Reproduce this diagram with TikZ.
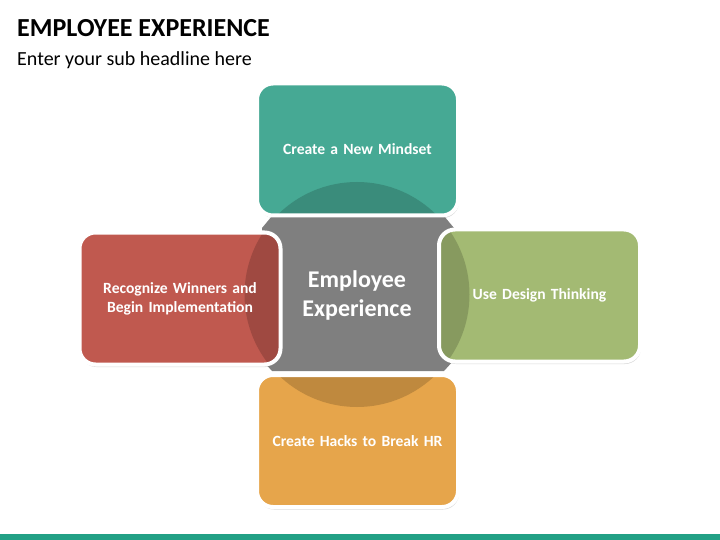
\documentclass[tikz,border=0pt]{standalone}
\usepackage{fontspec}
\setmainfont{Carlito}
\usetikzlibrary{shadows}
\definecolor{mindsetcol}{HTML}{46A994}
\definecolor{winnerscol}{HTML}{C0594F}
\definecolor{designcol}{HTML}{A3BA73}
\definecolor{hackscol}{HTML}{E6A54B}
\definecolor{corecol}{HTML}{7F7F7F}
\definecolor{bandcol}{HTML}{22A085}
\tikzset{
    x=1pt, y=-1pt,
    tile/.style={
        draw=white, line width=4pt, rounded corners=16pt,
        minimum width=201pt, minimum height=132pt,
        text width=190pt, align=center, text=white,
        font=\fontsize{15.6}{19}\selectfont\bfseries,
        drop shadow={opacity=0.3, shadow xshift=1pt, shadow yshift=-2.5pt},
        path picture={\fill[black, opacity=0.17] (hub) circle (112.5pt);}
    }
}

\begin{document}
\begin{tikzpicture}
    \useasboundingbox (0,0) rectangle (720,540);
    \coordinate (hub) at (357,294.5);

    % title
    \draw
        node [anchor=base west, inner sep=0pt, font=\fontsize{26}{30}\selectfont\bfseries] (title) at (17,37) {EMPLOYEE EXPERIENCE}
        node [anchor=base west, inner sep=0pt, font=\fontsize{20}{24}\selectfont] (sub) at (17,66) {Enter your sub headline here}
    ;
    \fill
        [bandcol]
        (0,534) rectangle (720,540)
    ;

    % centre
    \fill
        [corecol]
        (272,216) -- (444,216) -- (454,228) -- (454,360) -- (444,371)
        -- (272,371) -- (262,360) -- (262,228) -- cycle
    ;

    \draw
        node [tile, fill=mindsetcol] (mindset) at (357.5,149.5) {Create a New Mindset}
        node [tile, fill=winnerscol] (winners) at (180,298.5) {Recognize Winners and\\Begin Implementation}
        node [tile, fill=designcol] (design) at (539.5,295.5) {Use Design Thinking}
        node [tile, fill=hackscol] (hacks) at (357.5,441) {Create Hacks to Break HR}
    ;

    \draw
        node [text=white, align=center, font=\fontsize{24}{29}\selectfont\bfseries] (core) at (357,295) {Employee\\Experience}
    ;
\end{tikzpicture}
\end{document}
